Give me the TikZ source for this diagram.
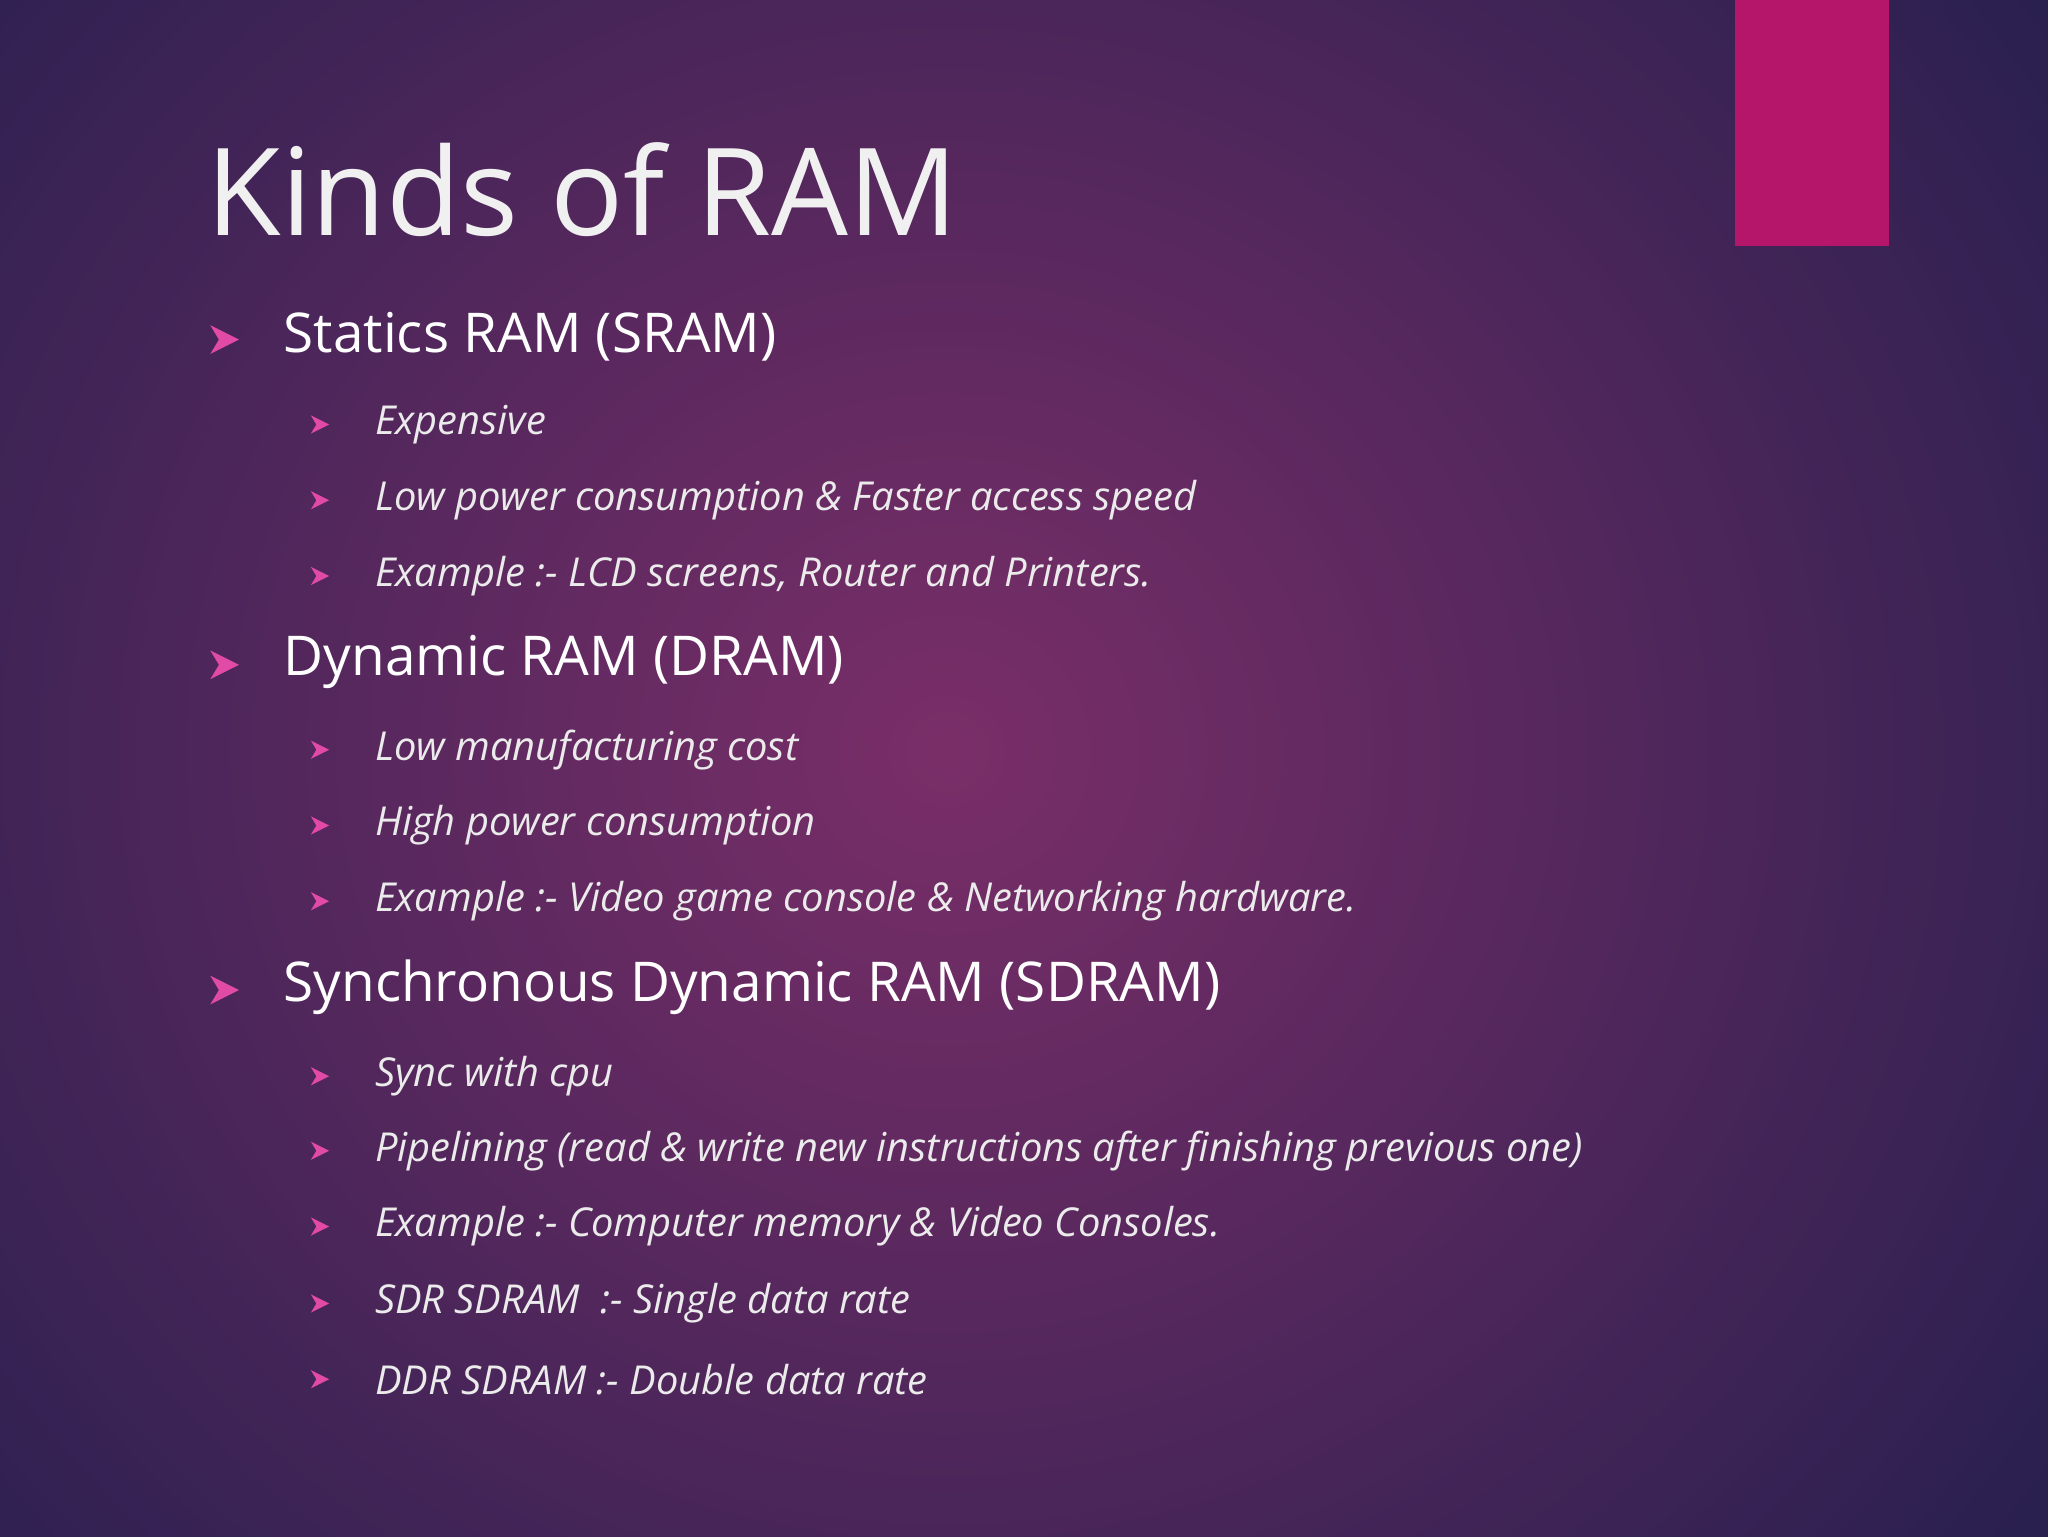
\documentclass[tikz,border=0pt]{standalone}
\usepackage{fontspec}
\setmainfont{Open Sans}
\begin{document}
\begin{tikzpicture}[x=1pt,y=-1pt,
  lone/.style={anchor=west,text=white,font=\fontsize{42}{46}\selectfont,inner sep=0},
  ltwo/.style={anchor=west,text=white!92!black,font=\fontsize{30.5}{33}\selectfont\itshape,inner sep=0}]
\definecolor{bgc}{HTML}{7A2E68}\definecolor{bge}{HTML}{2A2050}\definecolor{mag}{HTML}{B5166A}\definecolor{pk}{HTML}{E24AA8}
\useasboundingbox (0,0) rectangle (1568,1176);
\shade[inner color=bgc,outer color=bge] (-300,-400) rectangle (1750,1550);
\fill[mag] (1328,0) rectangle (1446,188);
\node[anchor=west,text=white!94!black,font=\fontsize{93}{100}\selectfont,inner sep=0] (title) at (158,145) {Kinds of RAM};
\newcommand{\bul}[3]{\fill[pk,shift={(#1,#2)},scale=#3] (-0.5,-0.5) -- (0.5,0) -- (-0.5,0.5) -- (-0.2,0) -- cycle;}
\foreach \y in {260,509,758} {\bul{172}{\y}{22}}
\foreach \y in {325,383,441,574,632,690,824,881,939,998,1056} {\bul{245}{\y}{14}}
\node[lone] (a) at (217,258) {Statics RAM (SRAM)};
\node[ltwo] (a1) at (287,325) {Expensive};
\node[ltwo] (a2) at (287,383) {Low power consumption \& Faster access speed};
\node[ltwo] (a3) at (287,441) {Example :- LCD screens, Router and Printers.};
\node[lone] (b) at (217,507) {Dynamic RAM (DRAM)};
\node[ltwo] (b1) at (287,574) {Low manufacturing cost};
\node[ltwo] (b2) at (287,632) {High power consumption};
\node[ltwo] (b3) at (287,690) {Example :- Video game console \& Networking hardware.};
\node[lone] (c) at (217,756) {Synchronous Dynamic RAM (SDRAM)};
\node[ltwo] (c1) at (287,824) {Sync with cpu};
\node[ltwo] (c2) at (287,881) {Pipelining (read \& write new instructions after finishing previous one)};
\node[ltwo] (c3) at (287,939) {Example :- Computer memory \& Video Consoles.};
\node[ltwo] (c4) at (287,998) {SDR SDRAM\ \ :- Single data rate};
\node[ltwo] (c5) at (287,1056) {DDR SDRAM :- Double data rate};
\end{tikzpicture}
\end{document}
